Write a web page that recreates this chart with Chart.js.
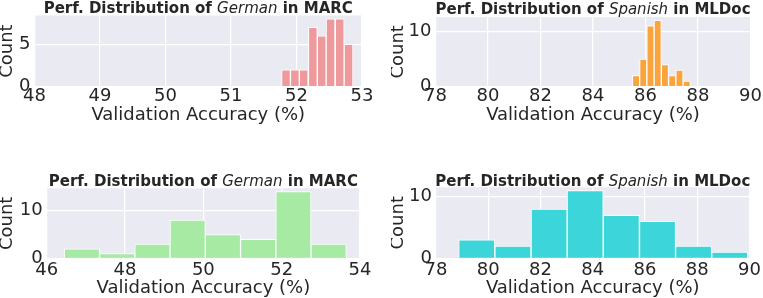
<!DOCTYPE html>
<html><head><meta charset="utf-8">
<script src="https://cdn.jsdelivr.net/npm/chart.js@4.4.1/dist/chart.umd.min.js"></script>
<style>
html,body{margin:0;padding:0;background:#fff;width:763px;height:298px;overflow:hidden;position:relative}
canvas{position:absolute}
</style></head><body>
<canvas id="cA" width="381" height="130" style="left:0px;top:0px"></canvas>
<canvas id="cB" width="392" height="130" style="left:391px;top:0px"></canvas>
<canvas id="cC" width="381" height="148" style="left:0px;top:150px"></canvas>
<canvas id="cD" width="392" height="148" style="left:391px;top:150px"></canvas>
<script>
// ---- data ----
const germanTopEdges = [51.77, 51.91, 52.04, 52.18, 52.32, 52.45, 52.59, 52.73, 52.86];
const germanTopCounts = [2, 2, 2, 7, 6, 8, 8, 5];
const spanishTopEdges = [85.50, 85.78, 86.05, 86.33, 86.60, 86.88, 87.16, 87.43, 87.71];
const spanishTopCounts = [2, 5, 11, 12, 4, 2, 3, 1];
const germanBottomEdges = [46.45, 47.35, 48.25, 49.15, 50.05, 50.95, 51.85, 52.75, 53.65];
const germanBottomCounts = [2, 1, 3, 8, 5, 4, 14, 3];
const spanishBottomEdges = [78.87, 80.25, 81.64, 83.02, 84.40, 85.79, 87.17, 88.55, 89.94];
const spanishBottomCounts = [3, 2, 8, 11, 7, 6, 2, 1];

const xTicksGermanTop = [48, 49, 50, 51, 52, 53];
const xTicksGermanBottom = [46, 48, 50, 52, 54];
const xTicksSpanish = [78, 80, 82, 84, 86, 88, 90];
const yTicksGermanTop = [0, 5];
const yTicksTen = [0, 10];

const titleGerman = [['Perf. Distribution of ', 'bold'], ['German', 'italic'], [' in MARC', 'bold']];
const titleSpanish = [['Perf. Distribution of ', 'bold'], ['Spanish', 'italic'], [' in MLDoc', 'bold']];
const xAxisTitle = 'Validation Accuracy (%)';
const yAxisTitle = 'Count';

// ---- styling / layout ----
const FONT = "'DejaVu Sans', sans-serif";
const TEXT = '#262626';
const BG = '#EAEAF2';

const panels = [
  {id:'cA', edges:germanTopEdges, counts:germanTopCounts, xMin:48, xMax:53, xTicks:xTicksGermanTop, yMax:8.4, yTicks:yTicksGermanTop,
   color:'rgb(238,154,156)', title:titleGerman, yW:34.5, padR:19, padT:15.5, xH:43.3, xTickPad:1.1, xTitlePad:5.7, titleY:13},
  {id:'cB', edges:spanishTopEdges, counts:spanishTopCounts, xMin:78, xMax:90, xTicks:xTicksSpanish, yMax:12.6, yTicks:yTicksTen,
   color:'rgb(249,164,62)', title:titleSpanish, yW:44.5, padR:32.5, padT:17, xH:43.3, xTickPad:1.1, xTitlePad:5.7, titleY:13.5},
  {id:'cC', edges:germanBottomEdges, counts:germanBottomCounts, xMin:46, xMax:54, xTicks:xTicksGermanBottom, yMax:14.7, yTicks:yTicksTen,
   color:'rgb(166,234,164)', title:titleGerman, yW:46.7, padR:21, padT:38.3, xH:39.7, xTickPad:3.2, xTitlePad:0.2, titleY:36},
  {id:'cD', edges:spanishBottomEdges, counts:spanishBottomCounts, xMin:78, xMax:90, xTicks:xTicksSpanish, yMax:11.55, yTicks:yTicksTen,
   color:'rgb(60,213,217)', title:titleSpanish, yW:45, padR:33.5, padT:37.2, xH:39.7, xTickPad:3.2, xTitlePad:0.2, titleY:36}
];

const panelDecor = {
  id: 'panelDecor',
  beforeDraw(chart, args, opts) {
    const {ctx, chartArea: a} = chart;
    ctx.save();
    ctx.fillStyle = BG;
    ctx.fillRect(a.left, a.top, a.right - a.left, a.bottom - a.top);
    ctx.restore();
  },
  afterDraw(chart, args, opts) {
    const {ctx, chartArea: a} = chart;
    const parts = opts.parts || [];
    const fontFor = s => (s === 'bold' ? '700 15px ' : 'italic 400 15px ') + FONT;
    ctx.save();
    ctx.fillStyle = TEXT;
    ctx.textBaseline = 'alphabetic';
    ctx.textAlign = 'left';
    let total = 0;
    parts.forEach(p => { ctx.font = fontFor(p[1]); total += ctx.measureText(p[0]).width; });
    let x = (a.left + a.right) / 2 - total / 2;
    parts.forEach(p => { ctx.font = fontFor(p[1]); ctx.fillText(p[0], x, opts.titleY); x += ctx.measureText(p[0]).width; });
    ctx.restore();
  }
};

panels.forEach(p => {
  const points = p.counts.map((c, i) => ({x: (p.edges[i] + p.edges[i + 1]) / 2, y: c}));
  new Chart(document.getElementById(p.id), {
    type: 'bar',
    data: {datasets: [{data: points, backgroundColor: p.color, borderColor: '#ffffff', borderWidth: 1,
      categoryPercentage: 1, barPercentage: 1}]},
    plugins: [panelDecor],
    options: {
      responsive: false, animation: false,
      layout: {padding: {left: 0, right: p.padR, top: p.padT, bottom: 0}},
      plugins: {legend: {display: false}, tooltip: {enabled: false}, title: {display: false},
        panelDecor: {parts: p.title, titleY: p.titleY}},
      scales: {
        x: {type: 'linear', min: p.xMin, max: p.xMax, offset: false,
          afterBuildTicks: s => { s.ticks = p.xTicks.map(v => ({value: v})); },
          afterFit: s => { s.height = p.xH; },
          grid: {color: '#ffffff', lineWidth: 1.2, drawTicks: false, offset: false},
          border: {display: false},
          ticks: {font: {family: FONT, size: 18, lineHeight: 1}, color: TEXT, padding: p.xTickPad,
            maxRotation: 0, minRotation: 0, autoSkip: false, callback: v => String(v)},
          title: {display: true, text: xAxisTitle, color: TEXT, font: {family: FONT, size: 18, lineHeight: 1},
            padding: {top: 0, bottom: p.xTitlePad}}
        },
        y: {type: 'linear', min: 0, max: p.yMax,
          afterBuildTicks: s => { s.ticks = p.yTicks.map(v => ({value: v})); },
          afterFit: s => { s.width = p.yW; },
          grid: {color: '#ffffff', lineWidth: 1.2, drawTicks: false},
          border: {display: false},
          ticks: {font: {family: FONT, size: 18, lineHeight: 1}, color: TEXT, padding: 4, callback: v => String(v)},
          title: {display: true, text: yAxisTitle, color: TEXT, font: {family: FONT, size: 18, lineHeight: 0.8},
            padding: {top: 0.3, bottom: 0}}
        }
      }
    }
  });
});
</script>
</body></html>
